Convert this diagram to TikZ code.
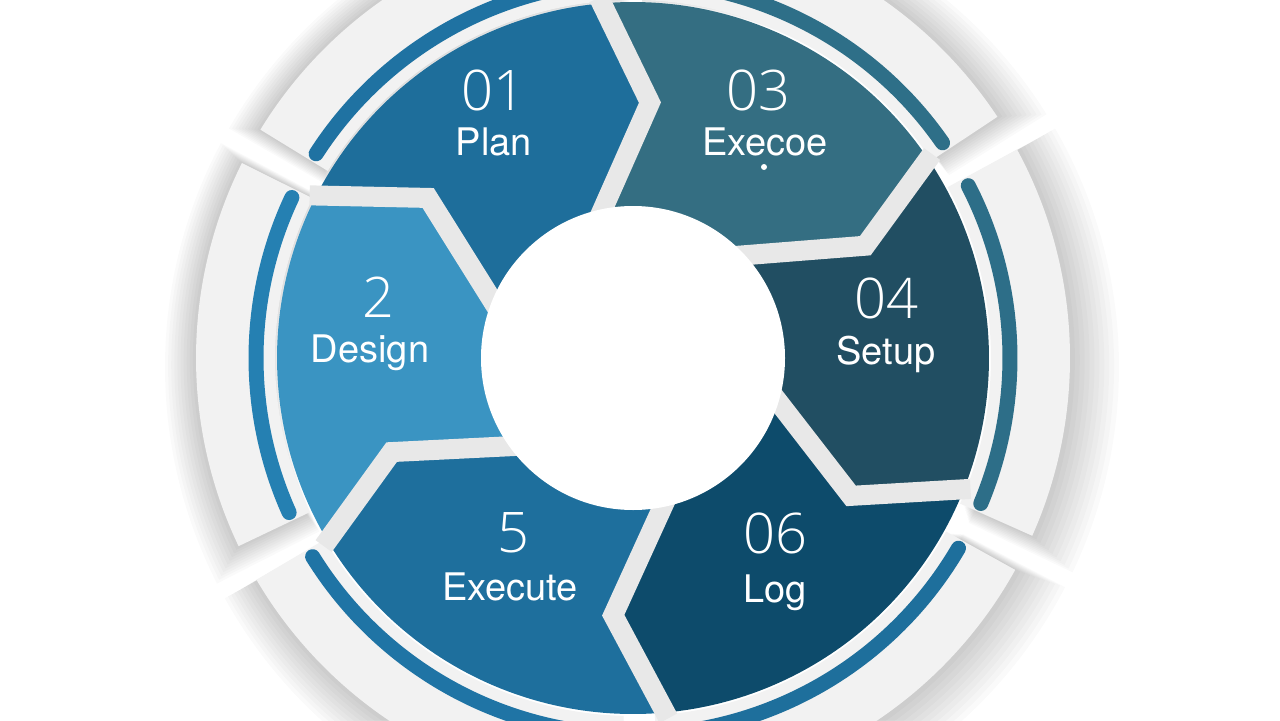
\documentclass[tikz,border=0pt]{standalone}
\usepackage{fontspec}
\setmainfont{TeX Gyre Heros}
\IfFontExistsTF{Open Sans Light}{\newfontfamily\numfont{Open Sans Light}}{%
 \IfFontExistsTF{Fira Sans Light}{\newfontfamily\numfont{Fira Sans Light}}{%
  \IfFontExistsTF{Lato Light}{\newfontfamily\numfont{Lato Light}}{\newfontfamily\numfont{TeX Gyre Heros}}}}
\definecolor{cPlan}{HTML}{1E6E9B}
\definecolor{cExecoe}{HTML}{346E82}
\definecolor{cSetup}{HTML}{214E62}
\definecolor{cLog}{HTML}{0D4B6B}
\definecolor{cExecute}{HTML}{1E6F9D}
\definecolor{cDesign}{HTML}{3A94C2}
\definecolor{gapgrey}{HTML}{E8E8E8}
\definecolor{bandgrey}{HTML}{F2F2F2}
\definecolor{rPlan}{HTML}{1F72A2}
\definecolor{rExecoe}{HTML}{2E6F88}
\definecolor{rSetup}{HTML}{2D6E88}
\definecolor{rLog}{HTML}{1E6F9C}
\definecolor{rExecute}{HTML}{1F74A5}
\definecolor{rDesign}{HTML}{2580B2}
\begin{document}
\begin{tikzpicture}[x=0.5pt,y=0.5pt,
  num/.style={text=white,font=\numfont\fontsize{28}{30}\selectfont,anchor=base,inner sep=0pt},
  lab/.style={text=white,font=\fontsize{19}{22}\selectfont,anchor=base,inner sep=0pt},
  gapline/.style={draw=gapgrey,line width=10pt,line join=miter},
  ringarc/.style={line width=7.5pt,line cap=round}]
\useasboundingbox (0,0) rectangle (1280,720);
\fill[white] (0,0) rectangle (1280,720);
\begin{scope}[shift={(633,362)}]
 % soft shadows of the outer band pieces
 \foreach \a/\b in {93.5/148.5, 33.5/88.5, -24/28.5, -86.5/-29, -149.5/-91.5, 153.5/205.5}{
   \foreach \k in {1,...,10}{
     \fill[black,opacity=0.02,shift={({0.9*\k},{-0.9*\k})}]
       ({\a-0.15*\k}:{437+4*\k}) arc[start angle={\a-0.15*\k}, end angle={\b+0.15*\k}, radius={437+4*\k}]
       -- ({\b+0.15*\k}:362) arc[start angle={\b+0.15*\k}, end angle={\a-0.15*\k}, radius=362] -- cycle;
   }
 }
 % outer band pieces
 \foreach \a/\b in {93.5/148.5, 33.5/88.5, -24/28.5, -86.5/-29, -149.5/-91.5, 153.5/205.5}{
   \fill[bandgrey] (\a:437) arc[start angle=\a, end angle=\b, radius=437]
       -- (\b:358) arc[start angle=\b, end angle=\a, radius=358] -- cycle;
 }
 % segments
 \fill[cPlan] (105:151) -- (86.2:256) -- (95.4:356) arc[start angle=95.4, end angle=153.3, radius=356]
   -- (142:260) -- (161.4:151) arc[start angle=161.4, end angle=105, radius=151] -- cycle;
 \fill[cExecoe] (46.5:151) -- (25.8:258) -- (34.3:356) arc[start angle=34.3, end angle=95.4, radius=356]
   -- (86.2:256) -- (105:151) arc[start angle=105, end angle=46.5, radius=151] -- cycle;
 \fill[cSetup] (-13.3:151) -- (-32.3:258) -- (-21.2:356) arc[start angle=-21.2, end angle=34.3, radius=356]
   -- (25.8:258) -- (46.5:151) arc[start angle=46.5, end angle=-13.3, radius=151] -- cycle;
 \fill[cLog] (-75.2:151) -- (-94.4:258) -- (-84.4:356) arc[start angle=-84.4, end angle=-21.2, radius=356]
   -- (-32.3:258) -- (-13.3:151) arc[start angle=-13.3, end angle=-75.2, radius=151] -- cycle;
 \fill[cExecute] (-141.3:151) -- (-158.7:259) -- (-148.7:356) arc[start angle=-148.7, end angle=-84.4, radius=356]
   -- (-94.4:258) -- (-75.2:151) arc[start angle=-75.2, end angle=-141.3, radius=151] -- cycle;
 \fill[cDesign] (161.4:151) -- (142:260) -- (153.3:356) arc[start angle=153.3, end angle=211.3, radius=356]
   -- (201.3:259) -- (218.7:151) arc[start angle=218.7, end angle=161.4, radius=151] -- cycle;
 % gaps between segments
 \draw[gapline] (105:140) -- (86.2:256) -- (95.4:362);
 \draw[gapline] (46.5:140) -- (25.8:258) -- (34.3:362);
 \draw[gapline] (-13.3:140) -- (-32.3:258) -- (-21.2:362);
 \draw[gapline] (-75.2:140) -- (-94.4:258) -- (-84.4:362);
 \draw[gapline] (-141.3:140) -- (-158.7:259) -- (-148.7:362);
 \draw[gapline] (161.4:140) -- (142:260) -- (153.3:362);
 % inner white disk
 \fill[white] (0,0) circle (152);
 % thin blue ring pieces
 \foreach \a/\b/\c in {93.5/148.5/rPlan, 33.5/88.5/rExecoe, -24/28.5/rSetup, -86.5/-29/rLog, -149.5/-91.5/rExecute, 153.5/205.5/rDesign}{
   \draw[ringarc,draw=\c] ({\a+1.3}:377) arc[start angle={\a+1.3}, end angle={\b-1.3}, radius=377];
 }
\end{scope}
% labels
\node[num] (n1) at (493,610) {01};
\node[lab] (l1) at (494,565) {Plan};
\node[num] (n3) at (758,610) {03};
\node[lab] (l3) at (765,565) {Execoe};
\fill[white] (764,553) circle (3);
\node[num] (n4) at (886,402) {04};
\node[lab] (l4) at (886,356) {Setup};
\node[num] (n2) at (378,403) {2};
\node[lab] (l2) at (370,358) {Design};
\node[num] (n5) at (513,168) {5};
\node[lab] (l5) at (510,120) {Execute};
\node[num] (n6) at (775,167) {06};
\node[lab] (l6) at (775,118) {Log};
\end{tikzpicture}
\end{document}
